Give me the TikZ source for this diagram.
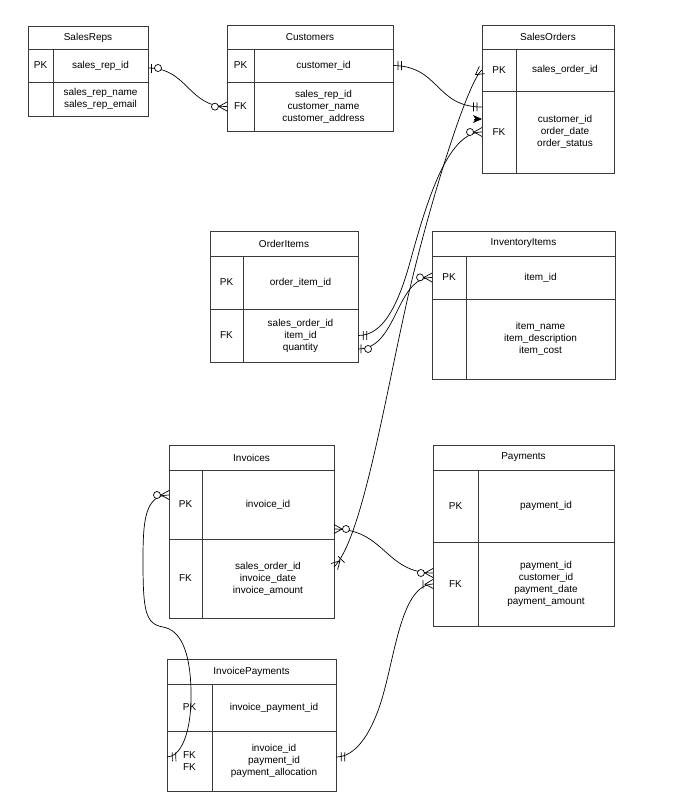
\documentclass[tikz,border=0pt]{standalone}
\usepackage{fontspec}
\setmainfont{Liberation Sans}
\usetikzlibrary{arrows.meta,positioning,decorations.markings}
\definecolor{Ink}{HTML}{000000}
\definecolor{Frame}{HTML}{3A3A3A}
% crow's foot pieces, #1 = direction along the path
\newcommand\erbar[2]{\draw[rel] ({#1*#2},-4.5pt) -- ({#1*#2},4.5pt);}
\newcommand\ercirc[2]{\draw[rel,fill=white] ({#1*#2},0pt) circle[radius=3.5pt];}
\newcommand\ercrow[1]{\draw[rel] (0pt,4.5pt) -- ({#1*8pt},0pt) -- (0pt,-4.5pt);}
\tikzset{
  cell/.style={draw=Frame,line width=0.8pt,inner sep=0pt,outer sep=0pt,align=center,font=\fontsize{10}{12}\selectfont,text=Ink},
  title/.style={cell,minimum height=24pt,anchor=north west},
  rel/.style={draw=Ink,line width=0.7pt},
  ermark/.style 2 args={postaction={decorate,decoration={markings,mark=at position #1*0.999 with {#2}}}},
  many/.style={ermark={#1}{\ercrow{(1-2*#1)}}},
  zmany/.style={ermark={#1}{\ercirc{(1-2*#1)}{12pt}\ercrow{(1-2*#1)}}},
  omany/.style={ermark={#1}{\erbar{(1-2*#1)}{10pt}\ercrow{(1-2*#1)}}},
  mone/.style={ermark={#1}{\erbar{(1-2*#1)}{5pt}\erbar{(1-2*#1)}{8.5pt}}},
  zone/.style={ermark={#1}{\erbar{(1-2*#1)}{3pt}\ercirc{(1-2*#1)}{10pt}}}
}
\begin{document}
\begin{tikzpicture}[x=1pt,y=-1pt]
  \fill[white] (0,0) rectangle (687,803);
  % SalesReps
  \node[title,minimum width=120pt,minimum height=23pt] (sr) at (28,26) {SalesReps};
  \node[cell,minimum width=25pt,minimum height=33pt,below right=0pt of sr.south west] (srpkk) {PK};
  \node[cell,minimum width=95pt,minimum height=33pt,right=0pt of srpkk] (srpkf) {sales\_rep\_id};
  \node[cell,minimum width=25pt,minimum height=34pt,below=0pt of srpkk] (srfkk) {};
  \node[cell,minimum width=95pt,minimum height=34pt,right=0pt of srfkk] (srfkf) {sales\_rep\_name\\sales\_rep\_email};
  % Customers
  \node[title,minimum width=166pt] (cu) at (227,25) {Customers};
  \node[cell,minimum width=27pt,minimum height=33pt,below right=0pt of cu.south west] (cupkk) {PK};
  \node[cell,minimum width=139pt,minimum height=33pt,right=0pt of cupkk] (cupkf) {customer\_id};
  \node[cell,minimum width=27pt,minimum height=49pt,below=0pt of cupkk] (cufkk) {FK};
  \node[cell,minimum width=139pt,minimum height=49pt,right=0pt of cufkk] (cufkf) {sales\_rep\_id\\customer\_name\\customer\_address};
  % SalesOrders
  \node[title,minimum width=132pt] (so) at (482,25) {SalesOrders};
  \node[cell,minimum width=34pt,minimum height=42pt,below right=0pt of so.south west] (sopkk) {PK};
  \node[cell,minimum width=98pt,minimum height=42pt,right=0pt of sopkk] (sopkf) {sales\_order\_id};
  \node[cell,minimum width=34pt,minimum height=82pt,below=0pt of sopkk] (sofkk) {FK};
  \node[cell,minimum width=98pt,minimum height=82pt,right=0pt of sofkk] (sofkf) {customer\_id\\order\_date\\order\_status};
  % OrderItems
  \node[title,minimum width=148pt,minimum height=25pt] (oi) at (210,231) {OrderItems};
  \node[cell,minimum width=33pt,minimum height=53pt,below right=0pt of oi.south west] (oipkk) {PK};
  \node[cell,minimum width=115pt,minimum height=53pt,right=0pt of oipkk] (oipkf) {order\_item\_id};
  \node[cell,minimum width=33pt,minimum height=53pt,below=0pt of oipkk] (oifkk) {FK};
  \node[cell,minimum width=115pt,minimum height=53pt,right=0pt of oifkk] (oifkf) {sales\_order\_id\\item\_id\\quantity};
  % InventoryItems
  \node[title,minimum width=183pt,minimum height=25pt] (ii) at (432,231) {InventoryItems};
  \node[cell,minimum width=34pt,minimum height=43pt,below right=0pt of ii.south west] (iipkk) {PK};
  \node[cell,minimum width=149pt,minimum height=43pt,right=0pt of iipkk] (iipkf) {item\_id};
  \node[cell,minimum width=34pt,minimum height=80pt,below=0pt of iipkk] (iifkk) {};
  \node[cell,minimum width=149pt,minimum height=80pt,right=0pt of iifkk] (iifkf) {item\_name\\item\_description\\item\_cost};
  % Invoices
  \node[title,minimum width=165pt,minimum height=25pt] (iv) at (169,445) {Invoices};
  \node[cell,minimum width=33pt,minimum height=69pt,below right=0pt of iv.south west] (ivpkk) {PK};
  \node[cell,minimum width=132pt,minimum height=69pt,right=0pt of ivpkk] (ivpkf) {invoice\_id};
  \node[cell,minimum width=33pt,minimum height=79pt,below=0pt of ivpkk] (ivfkk) {FK};
  \node[cell,minimum width=132pt,minimum height=79pt,right=0pt of ivfkk] (ivfkf) {sales\_order\_id\\invoice\_date\\invoice\_amount};
  % Payments
  \node[title,minimum width=181pt,minimum height=25pt] (py) at (433,445) {Payments};
  \node[cell,minimum width=45pt,minimum height=72pt,below right=0pt of py.south west] (pypkk) {PK};
  \node[cell,minimum width=136pt,minimum height=72pt,right=0pt of pypkk] (pypkf) {payment\_id};
  \node[cell,minimum width=45pt,minimum height=84pt,below=0pt of pypkk] (pyfkk) {FK};
  \node[cell,minimum width=136pt,minimum height=84pt,right=0pt of pyfkk] (pyfkf) {payment\_id\\customer\_id\\payment\_date\\payment\_amount};
  % InvoicePayments
  \node[title,minimum width=169pt,minimum height=25pt] (ip) at (167,659) {InvoicePayments};
  \node[cell,minimum width=45pt,minimum height=47pt,below right=0pt of ip.south west] (ippkk) {PK};
  \node[cell,minimum width=124pt,minimum height=47pt,right=0pt of ippkk] (ippkf) {invoice\_payment\_id};
  \node[cell,minimum width=45pt,minimum height=60pt,below=0pt of ippkk] (ipfkk) {FK\\FK};
  \node[cell,minimum width=124pt,minimum height=60pt,right=0pt of ipfkk] (ipfkf) {invoice\_id\\payment\_id\\payment\_allocation};
  % relations
  \draw[rel,zone=0,zmany=1] ([yshift=-2.5pt]srpkf.east) .. controls (188,68) and (188,107) .. (cufkk.west);
  \draw[rel,mone=0,mone=1] (cupkf.east) .. controls (440,66) and (435,107) .. ([yshift=25pt]sofkk.west);
  \coordinate (stray) at (474,119);
  \draw[rel,-{Stealth[length=9pt,width=8pt,inset=2.5pt]}] (stray) -- ([yshift=13pt]sofkk.west);
  \draw[rel,many=0,omany=1] (sopkk.west) .. controls (468,80) and (427,210) .. (405,310)
    .. controls (383,410) and (361,540) .. ([yshift=11.5pt]ivfkf.east);
  \draw[rel,zmany=0,mone=1] (sofkk.west) .. controls (450,132) and (430,190) .. (412,255)
    .. controls (400,300) and (385,336) .. (oifkf.east);
  \draw[rel,zmany=0,zone=1] (iipkk.west) .. controls (395,277) and (398,349) .. ([yshift=-13.5pt]oifkf.east);
  \draw[rel,zmany=0,zmany=1] ([yshift=-24.5pt]ivpkf.east) .. controls (385,529) and (385,573) .. ([yshift=11pt]pyfkk.west);
  \draw[rel,omany=0,mone=1] (pyfkk.west) .. controls (400,585) and (395,660) .. (380,705)
    .. controls (370,735) and (355,757) .. ([yshift=4pt]ipfkf.east);
  \draw[rel,zmany=0,mone=1] ([yshift=9.5pt]ivpkk.west) .. controls (145,495) and (143,520) .. (143,560)
    .. controls (143,610) and (145,624) .. (163,627) .. controls (180,630) and (190,650) .. (191,690)
    .. controls (192,735) and (180,757) .. ([yshift=4pt]ipfkk.west);
\end{tikzpicture}
\end{document}
